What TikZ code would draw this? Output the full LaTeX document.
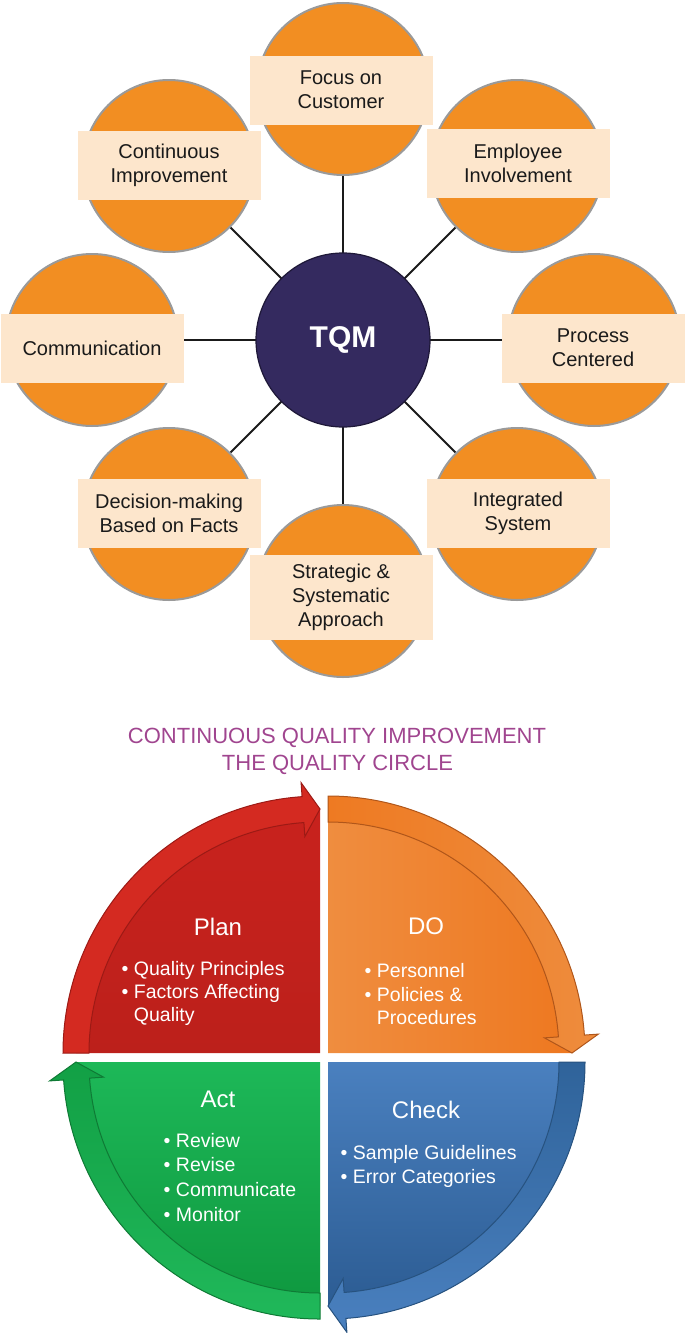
\documentclass[tikz,border=0pt]{standalone}
\usepackage{fontspec}
\setmainfont{Liberation Sans}
\usetikzlibrary{backgrounds}
\definecolor{peach}{HTML}{FDE6CC}
\definecolor{orng}{HTML}{F28E22}
\definecolor{cgray}{HTML}{9A9A9A}
\definecolor{navy}{HTML}{342A5F}
\definecolor{navyline}{HTML}{1E1838}
\definecolor{ttl}{HTML}{A0458F}
\definecolor{txt}{HTML}{1A1A1A}
\definecolor{planTop}{HTML}{C8221D}
\definecolor{planBot}{HTML}{BC201B}
\definecolor{planBand}{HTML}{D42A21}
\definecolor{planLine}{HTML}{9C1A15}
\definecolor{doL}{HTML}{EF8D3F}
\definecolor{doR}{HTML}{EE7820}
\definecolor{doBandA}{HTML}{EE7A22}
\definecolor{doBandB}{HTML}{EE8C3D}
\definecolor{doLine}{HTML}{B0561A}
\definecolor{chTop}{HTML}{4A80BF}
\definecolor{chBot}{HTML}{2C5C93}
\definecolor{chBandA}{HTML}{2F639A}
\definecolor{chBandB}{HTML}{4A80BF}
\definecolor{chLine}{HTML}{27527F}
\definecolor{acTop}{HTML}{1DB858}
\definecolor{acBot}{HTML}{0F983F}
\definecolor{acBandA}{HTML}{12A045}
\definecolor{acBandB}{HTML}{20B85A}
\definecolor{acLine}{HTML}{0F7A35}
\newcommand\qband[3]{%
  \draw[#2, draw=#3, line width=1pt, line join=miter]
    (#1:257) arc[start angle=#1, delta angle=-86, radius=257]
    -- ({#1-86}:271) -- ({#1-90}:244) -- ({#1-86}:217) -- ({#1-86}:231)
    arc[start angle={#1-86}, delta angle=86, radius=231] -- cycle;}
\begin{document}
\begin{tikzpicture}[x=1pt,y=1pt,
  outer/.style={circle, fill=orng, draw=cgray, line width=2pt, minimum size=172pt, inner sep=0pt},
  lbl/.style={fill=peach, minimum width=183pt, minimum height=69pt, inner sep=0pt, align=center,
              font=\fontsize{20}{24}\selectfont, text=txt},
  spoke/.style={line width=2pt, draw=txt},
  ttlstyle/.style={anchor=base, inner sep=0pt, text=ttl, font=\fontsize{22}{26}\selectfont},
  qtitle/.style={anchor=base, inner sep=0pt, text=white, font=\fontsize{24}{28}\selectfont},
  qline/.style={anchor=base west, inner sep=0pt, text=white, font=\fontsize{19.5}{23}\selectfont}]
\useasboundingbox (0,0) rectangle (685,-1333);

% ---------- TQM wheel ----------
\node[outer] (c1) at (343,-89) {};
\node[outer] (c2) at (517,-166) {};
\node[outer] (c3) at (594,-340) {};
\node[outer] (c4) at (517,-514) {};
\node[outer] (c5) at (343,-591) {};
\node[outer] (c6) at (169,-514) {};
\node[outer] (c7) at (92,-340) {};
\node[outer] (c8) at (169,-166) {};
\node[circle, fill=navy, draw=navyline, line width=1.2pt, minimum size=174pt, inner sep=0pt,
      text=white, font=\bfseries\fontsize{30}{36}\selectfont] (tqm) at (343,-340) {TQM};
\begin{pgfonlayer}{background}
  \foreach \i in {1,...,8} \draw[spoke] (tqm.center) -- (c\i.center);
\end{pgfonlayer}

\node[lbl] (l1) at (341,-90) {Focus on\\Customer};
\node[lbl] (l2) at (518,-163) {Employee\\Involvement};
\node[lbl] (l3) at (593,-348) {Process\\Centered};
\node[lbl] (l4) at (518,-513) {Integrated\\System};
\node[lbl, minimum height=85pt] (l5) at (341,-597) {Strategic \&\\Systematic\\Approach};
\node[lbl] (l6) at (169,-513) {Decision-making\\Based on Facts};
\node[lbl] (l7) at (92,-348) {Communication};
\node[lbl] (l8) at (169,-165) {Continuous\\Improvement};

% ---------- Quality circle ----------
\node[ttlstyle] (t1) at (337,-743) {CONTINUOUS QUALITY IMPROVEMENT};
\node[ttlstyle] (t2) at (337.5,-770) {THE QUALITY CIRCLE};

\begin{scope}[shift={(320,-1053)}]
  \shade[top color=planTop, bottom color=planBot] (0,0) -- (180:244) arc[start angle=180, end angle=90, radius=244] -- cycle;
  \qband{180}{fill=planBand}{planLine}
\end{scope}
\begin{scope}[shift={(328,-1053)}]
  \shade[left color=doL, right color=doR] (0,0) -- (90:244) arc[start angle=90, end angle=0, radius=244] -- cycle;
  \qband{90}{left color=doBandA, right color=doBandB}{doLine}
\end{scope}
\begin{scope}[shift={(328,-1062)}]
  \shade[top color=chTop, bottom color=chBot] (0,0) -- (0:244) arc[start angle=0, end angle=-90, radius=244] -- cycle;
  \qband{0}{top color=chBandA, bottom color=chBandB}{chLine}
\end{scope}
\begin{scope}[shift={(320,-1062)}]
  \shade[top color=acTop, bottom color=acBot] (0,0) -- (270:244) arc[start angle=270, end angle=180, radius=244] -- cycle;
  \qband{270}{top color=acBandA, bottom color=acBandB}{acLine}
\end{scope}

% Plan
\node[qtitle] (pt) at (218,-935) {Plan};
\node[qline] (p1) at (121.5,-975) {\textbullet\ Quality Principles};
\node[qline] (p2) at (121.5,-998) {\textbullet\ Factors Affecting};
\node[qline] (p3) at (121.5,-1021) {\phantom{\textbullet\ }Quality};
% DO
\node[qtitle] (dt) at (426,-934) {DO};
\node[qline] (d1) at (364.5,-977) {\textbullet\ Personnel};
\node[qline] (d2) at (364.5,-1001) {\textbullet\ Policies \&};
\node[qline] (d3) at (364.5,-1024) {\phantom{\textbullet\ }Procedures};
% Act
\node[qtitle] (at) at (218,-1107) {Act};
\node[qline] (a1) at (163.5,-1147) {\textbullet\ Review};
\node[qline] (a2) at (163.5,-1171) {\textbullet\ Revise};
\node[qline] (a3) at (163.5,-1196) {\textbullet\ Communicate};
\node[qline] (a4) at (163.5,-1221) {\textbullet\ Monitor};
% Check
\node[qtitle] (ct) at (426,-1118) {Check};
\node[qline] (k1) at (340.5,-1159) {\textbullet\ Sample Guidelines};
\node[qline] (k2) at (340.5,-1183) {\textbullet\ Error Categories};
\end{tikzpicture}
\end{document}
